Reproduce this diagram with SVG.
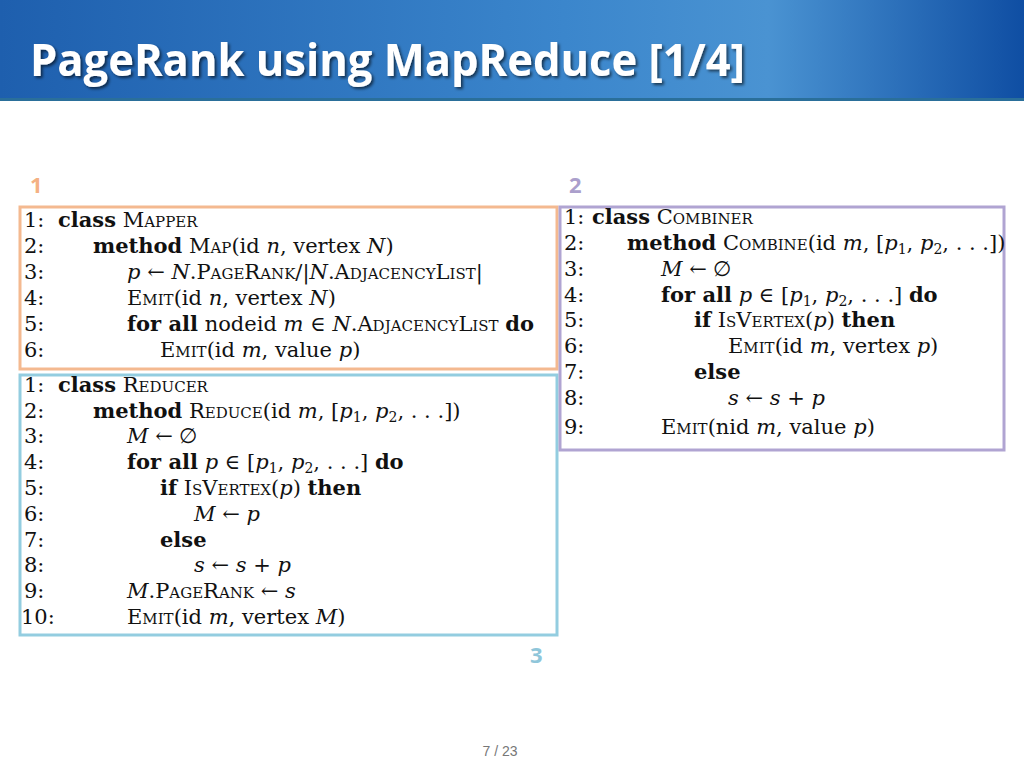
<svg xmlns="http://www.w3.org/2000/svg" width="1024" height="768" viewBox="0 0 1024 768">
<defs>
<linearGradient id="hg" x1="0" y1="0" x2="1" y2="0">
<stop offset="0" stop-color="#1e5fae"/><stop offset="0.55" stop-color="#3b86cc"/><stop offset="0.75" stop-color="#4a93d2"/><stop offset="1" stop-color="#0f4ea3"/>
</linearGradient>
<filter id="sh" x="-5%" y="-20%" width="110%" height="140%"><feDropShadow dx="2" dy="2" stdDeviation="1.5" flood-color="#000" flood-opacity="0.6"/></filter>
</defs>
<style>
.t{font-family:"DejaVu Serif","Liberation Serif",serif;font-size:21px;fill:#111}
.b{font-weight:bold}
.i{font-style:italic}
.sc{font-variant:small-caps}
.lbl{font-family:"Open Sans","Liberation Sans",sans-serif;font-size:22px;font-weight:bold}
</style>
<rect width="1024" height="768" fill="#fff"/>
<rect width="1024" height="100" fill="url(#hg)"/>
<rect y="98" width="1024" height="3" fill="#2a6f9a"/>
<text x="30" y="76" font-family="Open Sans, Lato, sans-serif" font-size="44" font-weight="bold" fill="#fff" filter="url(#sh)" textLength="715" lengthAdjust="spacingAndGlyphs">PageRank using MapReduce [1/4]</text>

<text class="lbl" x="30" y="193" fill="#f4b183">1</text>
<text class="lbl" x="569" y="193" fill="#ab9fcc">2</text>
<text class="lbl" x="530" y="663" fill="#8fc6da">3</text>

<g id="mapper">
<rect x="20" y="207" width="537" height="162" fill="#fff" stroke="#f4b990" stroke-width="3"/>
<text class="t" x="24" y="227">1:</text><text class="t" x="58" y="227"><tspan class="b">class</tspan> <tspan class="sc">Mapper</tspan></text>
<text class="t" x="24" y="253">2:</text><text class="t" x="93" y="253"><tspan class="b">method</tspan> <tspan class="sc">Map</tspan>(id <tspan class="i">n</tspan>, vertex <tspan class="i">N</tspan>)</text>
<text class="t" x="24" y="279">3:</text><text class="t" x="127" y="279"><tspan class="i">p</tspan> ← <tspan class="i">N</tspan>.<tspan class="sc">PageRank</tspan>/|<tspan class="i">N</tspan>.<tspan class="sc">AdjacencyList</tspan>|</text>
<text class="t" x="24" y="305">4:</text><text class="t" x="127" y="305"><tspan class="sc">Emit</tspan>(id <tspan class="i">n</tspan>, vertex <tspan class="i">N</tspan>)</text>
<text class="t" x="24" y="331">5:</text><text class="t" x="127" y="331"><tspan class="b">for all</tspan> nodeid <tspan class="i">m</tspan> ∈ <tspan class="i">N</tspan>.<tspan class="sc">AdjacencyList</tspan> <tspan class="b">do</tspan></text>
<text class="t" x="24" y="357">6:</text><text class="t" x="160" y="357"><tspan class="sc">Emit</tspan>(id <tspan class="i">m</tspan>, value <tspan class="i">p</tspan>)</text>
</g>

<g id="reducer">
<rect x="20" y="375" width="537" height="260" fill="#fff" stroke="#93cde0" stroke-width="3"/>
<text class="t" x="24" y="392">1:</text><text class="t" x="58" y="392"><tspan class="b">class</tspan> <tspan class="sc">Reducer</tspan></text>
<text class="t" x="24" y="418">2:</text><text class="t" x="93" y="418"><tspan class="b">method</tspan> <tspan class="sc">Reduce</tspan>(id <tspan class="i">m</tspan>, [<tspan class="i">p</tspan><tspan font-size="14" dy="4">1</tspan><tspan dy="-4">, </tspan><tspan class="i">p</tspan><tspan font-size="14" dy="4">2</tspan><tspan dy="-4">, . . .])</tspan></text>
<text class="t" x="24" y="443">3:</text><text class="t" x="127" y="443"><tspan class="i">M</tspan> ← ∅</text>
<text class="t" x="24" y="469">4:</text><text class="t" x="127" y="469"><tspan class="b">for all</tspan> <tspan class="i">p</tspan> ∈ [<tspan class="i">p</tspan><tspan font-size="14" dy="4">1</tspan><tspan dy="-4">, </tspan><tspan class="i">p</tspan><tspan font-size="14" dy="4">2</tspan><tspan dy="-4">, . . .] </tspan><tspan class="b">do</tspan></text>
<text class="t" x="24" y="495">5:</text><text class="t" x="160" y="495"><tspan class="b">if</tspan> <tspan class="sc">IsVertex</tspan>(<tspan class="i">p</tspan>) <tspan class="b">then</tspan></text>
<text class="t" x="24" y="521">6:</text><text class="t" x="194" y="521"><tspan class="i">M</tspan> ← <tspan class="i">p</tspan></text>
<text class="t" x="24" y="547">7:</text><text class="t" x="160" y="547" font-weight="bold">else</text>
<text class="t" x="24" y="572">8:</text><text class="t" x="194" y="572"><tspan class="i">s</tspan> ← <tspan class="i">s</tspan> + <tspan class="i">p</tspan></text>
<text class="t" x="24" y="598">9:</text><text class="t" x="127" y="598"><tspan class="i">M</tspan>.<tspan class="sc">PageRank</tspan> ← <tspan class="i">s</tspan></text>
<text class="t" x="21" y="624">10:</text><text class="t" x="127" y="624"><tspan class="sc">Emit</tspan>(id <tspan class="i">m</tspan>, vertex <tspan class="i">M</tspan>)</text>
</g>

<g id="combiner">
<rect x="560" y="207" width="444" height="243" fill="#fff" stroke="#b0a4d2" stroke-width="3"/>
<text class="t" x="564" y="224">1:</text><text class="t" x="592" y="224"><tspan class="b">class</tspan> <tspan class="sc">Combiner</tspan></text>
<text class="t" x="564" y="250">2:</text><text class="t" x="627" y="250"><tspan class="b">method</tspan> <tspan class="sc">Combine</tspan>(id <tspan class="i">m</tspan>, [<tspan class="i">p</tspan><tspan font-size="14" dy="4">1</tspan><tspan dy="-4">, </tspan><tspan class="i">p</tspan><tspan font-size="14" dy="4">2</tspan><tspan dy="-4">, . . .])</tspan></text>
<text class="t" x="564" y="276">3:</text><text class="t" x="661" y="276"><tspan class="i">M</tspan> ← ∅</text>
<text class="t" x="564" y="302">4:</text><text class="t" x="661" y="302"><tspan class="b">for all</tspan> <tspan class="i">p</tspan> ∈ [<tspan class="i">p</tspan><tspan font-size="14" dy="4">1</tspan><tspan dy="-4">, </tspan><tspan class="i">p</tspan><tspan font-size="14" dy="4">2</tspan><tspan dy="-4">, . . .] </tspan><tspan class="b">do</tspan></text>
<text class="t" x="564" y="327">5:</text><text class="t" x="694" y="327"><tspan class="b">if</tspan> <tspan class="sc">IsVertex</tspan>(<tspan class="i">p</tspan>) <tspan class="b">then</tspan></text>
<text class="t" x="564" y="353">6:</text><text class="t" x="728" y="353"><tspan class="sc">Emit</tspan>(id <tspan class="i">m</tspan>, vertex <tspan class="i">p</tspan>)</text>
<text class="t" x="564" y="379">7:</text><text class="t" x="694" y="379" font-weight="bold">else</text>
<text class="t" x="564" y="405">8:</text><text class="t" x="728" y="405"><tspan class="i">s</tspan> ← <tspan class="i">s</tspan> + <tspan class="i">p</tspan></text>
<text class="t" x="564" y="434">9:</text><text class="t" x="661" y="434"><tspan class="sc">Emit</tspan>(nid <tspan class="i">m</tspan>, value <tspan class="i">p</tspan>)</text>
</g>

<text x="500" y="756" font-family="Liberation Sans, sans-serif" font-size="14" fill="#777" text-anchor="middle">7 / 23</text>
</svg>
